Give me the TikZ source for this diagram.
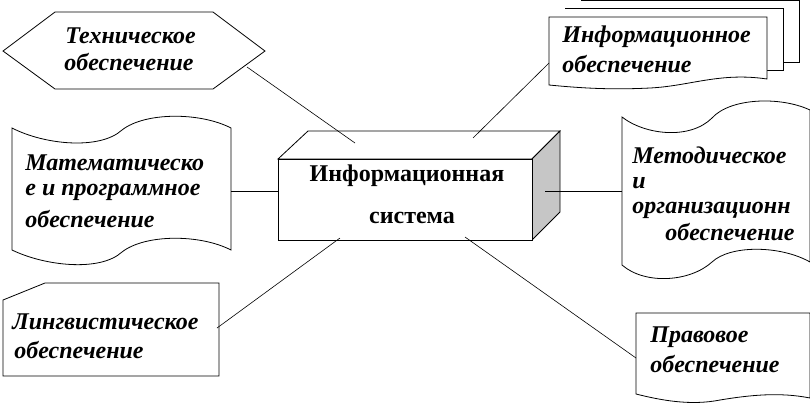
\documentclass[tikz,border=0pt]{standalone}
\usepackage{fontspec}
\setmainfont{Liberation Serif}
\begin{document}
\begin{tikzpicture}[x=1pt,y=-1pt,line width=0.8pt,
  lbl/.style={font=\fontsize{24}{26}\selectfont\bfseries\itshape,anchor=west,inner sep=0pt},
  sys/.style={font=\fontsize{24}{26}\selectfont\bfseries,inner sep=0pt},
  con/.style={line width=0.6pt}]
\useasboundingbox (0,0) rectangle (810,408);
% Technical hexagon
\draw (3,51)--(55,12)--(213,12)--(265,51)--(213,89)--(55,89)--cycle;
\node[lbl] (t1) at (65,36) {Техническое};
\node[lbl] (t2) at (64,62) {обеспечение};
\coordinate (tc) at (247,67);
% Math tape
\draw (12,128) .. controls (45,145) and (100,150) .. (122,130) .. controls (145,112) and (200,112) .. (231,128)
  -- (231,250) .. controls (200,234) and (145,234) .. (122,252) .. controls (100,272) and (45,266) .. (12,250) -- cycle;
\node[lbl] (m1) at (25,163) {Математическо};
\node[lbl] (m2) at (25,192) {е и программное};
\node[lbl] (m3) at (25,219) {обеспечение};
\coordinate (mc) at (231,191);
% Lingvistic
\draw (3,300)--(45,283)--(219,283)--(219,376)--(3,376)--cycle;
\node[lbl] (l1) at (12,322) {Лингвистическое};
\node[lbl] (l2) at (14,350) {обеспечение};
\coordinate (lc) at (217,328);
% Info stacked docs
\draw[fill=white] (581,0)--(799,0)--(799,62)--(783,62);
\draw[fill=white] (565,8)--(783,8)--(783,70)--(767,70);
\draw[fill=white] (549,17)--(767,17)--(767,79) .. controls (720,72) and (690,86) .. (650,88) .. controls (610,90) and (580,88) .. (549,85) -- cycle;
\node[lbl] (i1) at (562,37) {Информационное};
\node[lbl] (i2) at (562,64) {обеспечение};
\coordinate (ic) at (549,63);
% Metodic tape
\draw (622,117) .. controls (645,135) and (690,140) .. (712,118) .. controls (730,98) and (780,96) .. (810,110)
  -- (810,262) .. controls (780,245) and (730,245) .. (712,262) .. controls (690,282) and (645,285) .. (622,265) -- cycle;
\node[lbl] (d1) at (632,155) {Методическое};
\node[lbl] (d2) at (632,183) {и};
\node[lbl] (d3) at (632,210) {организационн};
\node[lbl,anchor=east] (d4) at (795,232) {обеспечение};
\coordinate (dc) at (622,191);
% Pravovoe doc
\draw (636,313)--(810,313)--(810,398) .. controls (780,392) and (750,395) .. (720,400) .. controls (690,406) and (660,400) .. (636,394) -- cycle;
\node[lbl] (p1) at (650,337) {Правовое};
\node[lbl] (p2) at (650,364) {обеспечение};
\coordinate (pc) at (636,358);
% System box
\draw[fill=white] (278,159)--(308,131)--(560,131)--(532,159)--cycle;
\draw[fill=gray!45] (532,159)--(560,131)--(560,212)--(532,240)--cycle;
\draw[fill=white] (278,159) rectangle (532,240);
\node[sys] (s1) at (407,176) {Информационная};
\node[sys] (s2) at (412,218) {система};
\coordinate (sT) at (355,143);
\coordinate (sI) at (473,138);
\coordinate (sL) at (278,191);
\coordinate (sR) at (545,191);
\coordinate (sB1) at (340,238);
\coordinate (sB2) at (465,237);
% connectors
\draw[con] (tc)--(sT);
\draw[con] (ic)--(sI);
\draw[con] (mc)--(sL);
\draw[con] (sR)--(dc);
\draw[con] (lc)--(sB1);
\draw[con] (sB2)--(pc);
\end{tikzpicture}
\end{document}
